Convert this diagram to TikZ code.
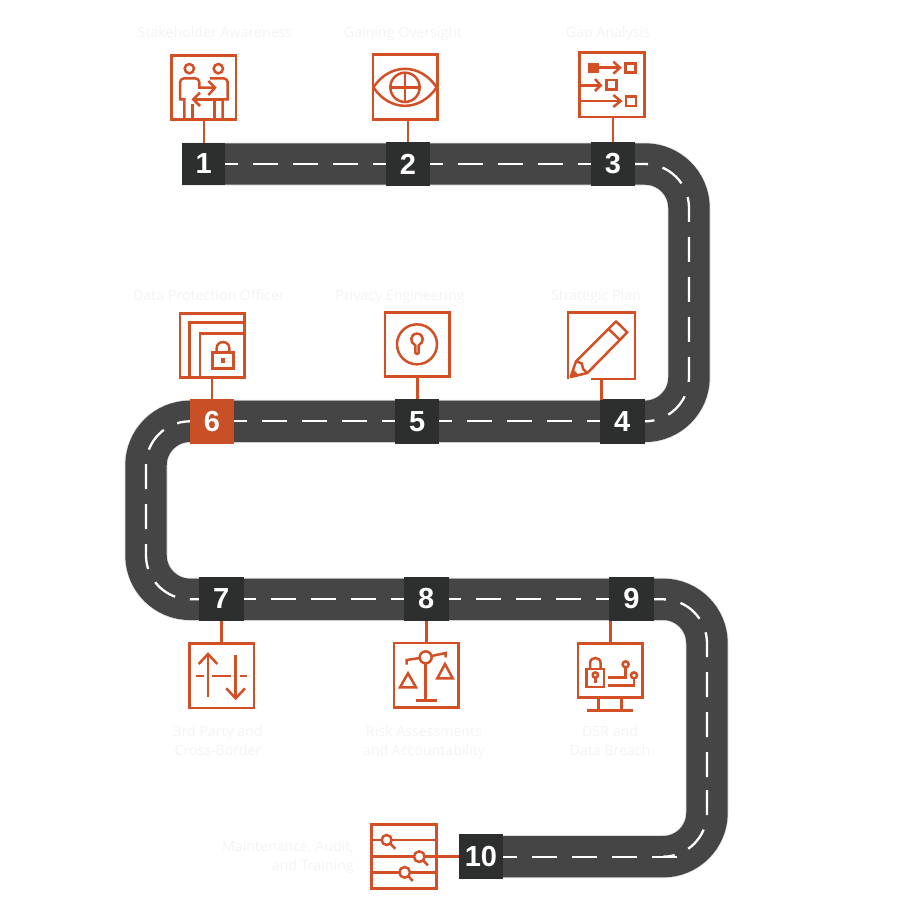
\documentclass[tikz,border=0pt]{standalone}
\usepackage{fontspec}
\setmainfont{Open Sans}
\newfontfamily\numfont{Liberation Sans}
\definecolor{roadc}{HTML}{454545}
\definecolor{badgec}{HTML}{2D2F2E}
\definecolor{orng}{HTML}{D35027}
\definecolor{badgeo}{HTML}{C94F27}
\definecolor{lbl}{HTML}{F3F3F3}
\tikzset{
 badge/.style={fill=badgec,minimum width=44.4pt,minimum height=44.4pt,inner sep=0pt,outer sep=0pt,text=white,font=\numfont\bfseries\fontsize{29}{29}\selectfont},
 iconbox/.style={draw=orng,line width=2.8pt,minimum width=64.5pt,minimum height=64.5pt,inner sep=0pt,outer sep=0pt},
 ln/.style={draw=orng,line width=2.5pt},
 conn/.style={draw=orng,line width=2.6pt},
 rd/.style={rounded corners=44pt},
 cdash/.style={draw=white,line width=2.3pt,dash pattern=on 25pt off 15pt},
 lab/.style={text=lbl,font=\fontsize{14.2}{19}\selectfont,align=center,inner sep=0pt},
 zm/.style={scale=1/3}
}
\begin{document}
\begin{tikzpicture}[x=1pt,y=-1pt]
\useasboundingbox (0,0) rectangle (899,903);
% road
\draw[rd,draw=black!12,line width=43pt] (183,164) -- (689,164) -- (689,421.3) -- (146,421.3) -- (146,599.3) -- (707,599.3) -- (707,856.7) -- (480,856.7);
\draw[rd,draw=roadc,line width=41.4pt] (183,164) -- (689,164) -- (689,421.3) -- (146,421.3) -- (146,599.3) -- (707,599.3) -- (707,856.7) -- (480,856.7);
% lane marks
\draw[cdash] (213,164) -- (386,164);
\draw[cdash] (418,164) -- (591,164);
\draw[cdash,rd] (623,164) -- (689,164) -- (689,421.3) -- (622,421.3);
\draw[cdash] (612,421.3) -- (420,421.3);
\draw[cdash] (407,421.3) -- (215,421.3);
\draw[cdash,rd] (202,421.3) -- (146,421.3) -- (146,599.3) -- (220,599.3);
\draw[cdash] (231,599.3) -- (404,599.3);
\draw[cdash] (436,599.3) -- (609,599.3);
\draw[cdash,rd] (641,599.3) -- (707,599.3) -- (707,790);
\draw[cdash,rd] (707,790) -- (707,856.7) -- (663,856.7);
\draw[cdash] (677,856.7) -- (480,856.7);
% badges
\node[badge,minimum width=43pt,minimum height=41.4pt] (b1) at (203.8,164) {1};
\node[badge] (b2) at (407.9,164) {2};
\node[badge] (b3) at (613,164) {3};
\node[badge] (b4) at (622.3,421.3) {4};
\node[badge] (b5) at (417.2,421.3) {5};
\node[badge,fill=badgeo] (b6) at (212,421.3) {6};
\node[badge] (b7) at (221.3,599) {7};
\node[badge] (b8) at (426.3,599) {8};
\node[badge] (b9) at (631.5,599) {9};
\node[badge] (b10) at (481,856.5) {10};
% icon boxes
\node[iconbox] (i1) at (203.8,87.5) {};
\node[iconbox] (i2) at (405.2,87) {};
\node[iconbox] (i3) at (612,84.7) {};
\node[iconbox,draw=none] (i4) at (601.5,345.8) {};
\node[iconbox] (i5) at (417.2,344.4) {};
\node[iconbox] (i6) at (212.3,345.5) {};
\node[iconbox] (i7) at (221.8,675.7) {};
\node[iconbox] (i8) at (426.2,675.3) {};
\node[iconbox,minimum height=54pt] (i9) at (610.2,670.8) {};
\node[iconbox] (i10) at (404,856.5) {};
% connectors
\draw[conn] (b1.north) -- (b1.north |- i1.south);
\draw[conn] (b2.north) -- (b2.north |- i2.south);
\draw[conn] (b3.north) -- (b3.north |- i3.south);
\coordinate (c4) at (601.7,400);
\draw[conn,line width=2.9pt] (c4) -- (c4 |- i4.south);
\draw[conn] (b5.north) -- (b5.north |- i5.south);
\draw[conn] (b6.north) -- (b6.north |- i6.south);
\draw[conn] (b7.south) -- (b7.south |- i7.north);
\draw[conn] (b8.south) -- (b8.south |- i8.north);
\coordinate (c9) at (610.7,621);
\draw[conn] (c9) -- (c9 |- i9.north);
\draw[conn] (b10.west) -- (i10.east);
% labels
\node[lab] (t1) at (215,32) {Stakeholder Awareness};
\node[lab] (t2) at (403,33.5) {Gaining Oversight};
\node[lab] (t3) at (608,33.5) {Gap Analysis};
\node[lab] (t6) at (209,295) {Data Protection Officer};
\node[lab] (t5) at (400,296.5) {Privacy Engineering};
\node[lab] (t4) at (596,296.5) {Strategic Plan};
\node[lab] (t7) at (218,740.5) {3rd Party and\\Cross-Border};
\node[lab] (t8) at (424,742) {Risk Assessments\\and Accountability};
\node[lab] (t9) at (610,740.5) {DSR and\\Data Breach};
\node[lab,align=right,anchor=east] (t10) at (354,857.5) {Maintenance, Audit,\\and Training};
% icon 1
\begin{scope}[shift={(120,10)},zm]
\draw[ln] (208,176) circle (14) (295,176) circle (14);
\draw[ln] (193,327) -- (193,268) -- (180,268) -- (180,220) [rounded corners=4pt] -- (180,205) -- (238,205) [sharp corners] -- (238,233) -- (283,233);
\draw[ln] (265,213) -- (285,233) -- (265,255);
\draw[ln] (270,205) [rounded corners=4pt] -- (323,205) -- (323,225) [sharp corners] -- (323,268) -- (308,268) -- (308,327);
\draw[ln] (305,268) -- (222,268);
\draw[ln] (240,248) -- (220,268) -- (240,288);
\draw[ln] (218,282) -- (218,327) (283,268) -- (283,327);
\end{scope}
% icon 2
\begin{scope}[shift={(340,10)},zm]
\draw[ln] (100,232) .. controls (150,158) and (240,158) .. (290,232) .. controls (240,306) and (150,306) .. (100,232);
\draw[ln] (195,232) circle (44);
\draw[ln] (151,232) -- (239,232) (195,188) -- (195,276);
\end{scope}
% icon 3
\begin{scope}[shift={(340,10)},zm]
\fill[orng] (745,158) rectangle (777,188);
\draw[ln] (777,173) -- (840,173);
\draw[ln] (820,155) -- (840,173) -- (820,191);
\draw[ln] (857,160) rectangle (887,187);
\draw[ln] (720,226) -- (780,226);
\draw[ln] (765,207) -- (782,226) -- (765,243);
\draw[ln] (800,210) rectangle (829,238);
\draw[ln] (720,273) -- (840,273);
\draw[ln] (820,255) -- (842,273) -- (820,291);
\draw[ln] (858,260) rectangle (888,288);
\end{scope}
% icon 4
\begin{scope}[shift={(330,280)},zm]
\draw[draw=orng,line width=2.8pt] (783,297) -- (915,297) -- (915,98) -- (714,98) -- (714,297);
\draw[ln,line join=round] (722,291) -- (738,244) -- (858,124) -- (892,157) -- (772,279) -- cycle;
\draw[ln] (836,147) -- (870,180);
\draw[ln] (738,244) -- (755,250) -- (760,268) -- (772,279);
\fill[orng] (722,291) -- (730,268) -- (745,284) -- cycle;
\end{scope}
% icon 5
\begin{scope}[shift={(330,280)},zm]
\draw[ln] (261,193) circle (60);
\draw[ln,line join=round] (256,196) .. controls (238,188) and (240,161) .. (261,161) .. controls (282,161) and (284,188) .. (266,196) -- (266,218) .. controls (266,224) and (256,224) .. (256,218) -- cycle;
\end{scope}
% icon 6
\begin{scope}[shift={(120,280)},zm]
\draw[ln] (208,297) -- (208,128) -- (376,128);
\draw[ln] (240,297) -- (240,160) -- (376,160);
\draw[ln] (277,217) rectangle (341,265);
\draw[ln] (290,217) -- (290,205) .. controls (290,180) and (328,180) .. (328,205) -- (328,217);
\fill[orng] (304,234) rectangle (314,248);
\end{scope}
% icon 7
\begin{scope}[shift={(160,570)},zm]
\draw[ln] (144,380) -- (144,256);
\draw[ln] (116,282) -- (144,252) -- (172,282);
\draw[ln] (227,255) -- (227,381);
\draw[ln] (199,355) -- (227,385) -- (255,355);
\draw[ln] (108,318) -- (132,318) (156,318) -- (214,318) (240,318) -- (262,318);
\end{scope}
% icon 8
\begin{scope}[shift={(160,570)},zm]
\draw[ln] (797,262) circle (18);
\draw[ln] (797,280) -- (797,392) (768,392) -- (830,392);
\draw[ln] (740,284) -- (740,270) -- (779,264);
\draw[ln] (815,258) -- (857,249) -- (857,262);
\draw[ln,line join=miter] (744,310) -- (720,352) -- (768,352) -- cycle;
\draw[ln,line join=miter] (855,282) -- (832,325) -- (878,325) -- cycle;
\end{scope}
% icon 9
\begin{scope}[shift={(560,570)},zm]
\draw[ln] (115,386) -- (115,422) (185,386) -- (185,422) (82,422) -- (219,422);
\draw[ln] (80,297) rectangle (132,351);
\draw[ln] (90,297) -- (90,281) .. controls (90,258) and (122,258) .. (122,281) -- (122,297);
\draw[ln] (106,315) circle (8);
\draw[ln] (106,323) -- (106,338);
\draw[ln] (145,322) -- (197,322) -- (197,292);
\draw[ln] (197,283) circle (9);
\draw[ln] (145,346) -- (222,346) -- (222,325);
\draw[ln] (222,316) circle (9);
\end{scope}
% icon 10
\begin{scope}[shift={(210,810)},zm]
\draw[ln] (482,90) -- (682,90) (482,140) -- (682,140) (482,187) -- (682,187);
\draw[ln,fill=white] (530,90) circle (15);
\draw[ln] (541,101) -- (556,116);
\draw[ln,fill=white] (628,140) circle (16);
\draw[ln] (639,151) -- (654,166);
\draw[ln,fill=white] (584,187) circle (16);
\draw[ln] (595,198) -- (608,213);
\end{scope}
\end{tikzpicture}
\end{document}
